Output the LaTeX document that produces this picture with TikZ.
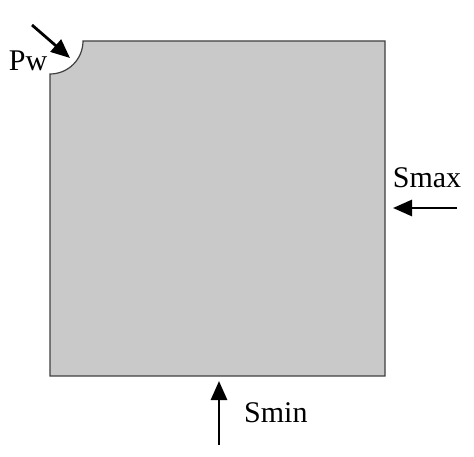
\documentclass[tikz,border=0pt]{standalone}
\usepackage{fontspec}
\setmainfont{Liberation Serif}
\usetikzlibrary{arrows.meta}
\begin{document}
\begin{tikzpicture}[x=1pt,y=-1pt,
  load/.style={line width=2.8pt,-{Triangle[length=19pt,width=16pt]}},
  lbl/.style={font=\fontsize{30}{34}\selectfont,inner sep=0pt}]
\useasboundingbox (0,0) rectangle (474,457);
\fill[white] (0,0) rectangle (474,457);
\filldraw[fill=black!21,draw=black!75,line width=1.2pt]
  (83,41) -- (385,41) -- (385,376) -- (50,376) -- (50,74)
  arc[start angle=90,end angle=0,radius=33] -- cycle;
\coordinate (pwt) at (32,25);
\coordinate (pwh) at (70,58);
\draw[load] (pwt) -- (pwh);
\node[lbl] (pw) at (28,61) {Pw};
\coordinate (sxt) at (457,208);
\coordinate (sxh) at (393,208);
\draw[load] (sxt) -- (sxh);
\node[lbl] (smax) at (427,178) {Smax};
\coordinate (snt) at (219,445);
\coordinate (snh) at (219,381);
\draw[load] (snt) -- (snh);
\node[lbl,anchor=west] (smin) at (244,413) {Smin};
\end{tikzpicture}
\end{document}
